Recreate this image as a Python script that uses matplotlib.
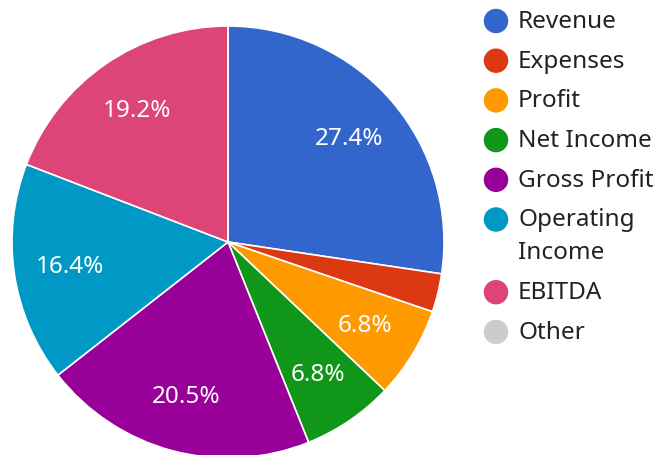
import matplotlib.pyplot as plt

labels = ['Revenue', 'Expenses', 'Profit', 'Net Income', 'Gross Profit',
          'Operating\nIncome', 'EBITDA', 'Other']
values = [400, 42, 100, 100, 300, 240, 280, 0]
colors = ['#3366cc', '#dc3912', '#ff9900', '#109618', '#990099',
          '#0099c6', '#dd4477', '#cccccc']

plt.rcParams['font.family'] = ['Noto Sans', 'DejaVu Sans']

W, H = 656, 456
fig = plt.figure(figsize=(W / 100, H / 100), dpi=100)
ax = fig.add_axes([0, 0, 1, 1])


def pct_label(p):
    return f'{p:.1f}%' if p >= 5 else ''


ax.pie(values, colors=colors, center=(228, 213), radius=216,
       startangle=90, counterclock=False, autopct=pct_label,
       pctdistance=0.74,
       wedgeprops=dict(edgecolor='white', linewidth=1.2),
       textprops=dict(color='white', fontsize=17.5))

# legend drawn by hand so wrapped labels line up like the original
y = H - 22
for lab, col in zip(labels, colors):
    ax.scatter([496], [y], s=310, color=col, edgecolors='none', clip_on=False)
    for i, line in enumerate(lab.split('\n')):
        ax.text(518, y - 33 * i, line, fontsize=17.5, color='#222222',
                va='center', ha='left')
    y -= 39.7 + 33 * lab.count('\n')

ax.set_xlim(0, W)
ax.set_ylim(0, H)
ax.set_aspect('equal')
ax.axis('off')

fig.savefig('out.png', dpi=100)
